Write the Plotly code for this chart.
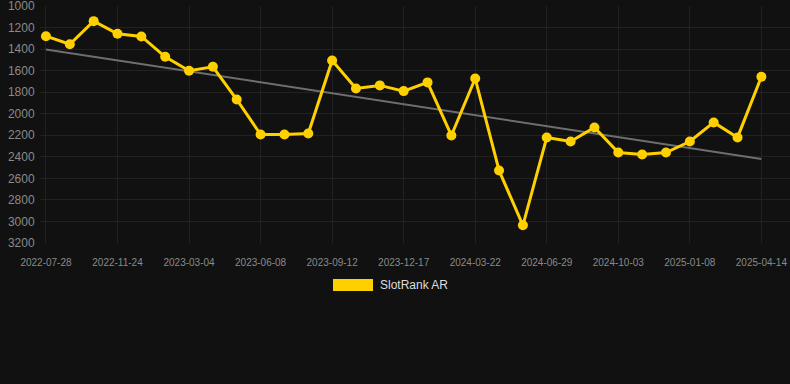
import numpy as np
import plotly.graph_objects as go

dates = [
    "2022-07-28", "2022-08-28", "2022-10-01", "2022-11-24", "2022-12-28",
    "2023-01-30", "2023-03-04", "2023-04-05", "2023-05-07", "2023-06-08",
    "2023-07-10", "2023-08-11", "2023-09-12", "2023-10-14", "2023-11-15",
    "2023-12-17", "2024-01-18", "2024-02-19", "2024-03-22", "2024-04-24",
    "2024-05-27", "2024-06-29", "2024-07-31", "2024-09-01", "2024-10-03",
    "2024-11-04", "2024-12-06", "2025-01-08", "2025-02-09", "2025-03-13",
    "2025-04-14",
]
ranks = [
    1280, 1355, 1140, 1257, 1282, 1471, 1601, 1564, 1868, 2193,
    2193, 2183, 1505, 1765, 1737, 1790, 1709, 2202, 1673, 2527,
    3036, 2220, 2258, 2128, 2360, 2379, 2360, 2258, 2081, 2220,
    1656,
]
tick_labels = ["2022-07-28", "2022-11-24", "2023-03-04", "2023-06-08", "2023-09-12",
               "2023-12-17", "2024-03-22", "2024-06-29", "2024-10-03", "2025-01-08",
               "2025-04-14"]
y_ticks = [1000, 1200, 1400, 1600, 1800, 2000, 2200, 2400, 2600, 2800, 3000, 3200]
series_name = "SlotRank AR"

idx = np.arange(len(ranks))
slope, intercept = np.polyfit(idx, ranks, 1)
trend = slope * idx + intercept

fig = go.Figure()
fig.add_trace(go.Scatter(
    x=dates, y=trend, mode="lines",
    line=dict(color="#6e6e6e", width=2), hoverinfo="skip", showlegend=False,
))
fig.add_trace(go.Scatter(
    x=dates, y=ranks, mode="lines+markers", name=series_name,
    line=dict(color="#FFD000", width=3),
    marker=dict(color="#FFD000", size=10),
    showlegend=False,
))

fig.update_layout(
    width=790, height=384,
    paper_bgcolor="#111111", plot_bgcolor="#111111",
    margin=dict(l=40, r=0, t=6, b=141),
    font=dict(family="Liberation Sans, Arial, sans-serif", color="#8a8a8a"),
    xaxis=dict(
        type="category", range=[-0.25, 31.2],
        tickmode="array", tickvals=tick_labels, ticktext=tick_labels,
        tickfont=dict(size=10, color="#8a8a8a"),
        showgrid=True, gridcolor="#212121", gridwidth=1,
        zeroline=False, showline=False,
        ticks="outside", ticklen=10, tickcolor="rgba(0,0,0,0)",
        ticklabeloverflow="allow",
    ),
    yaxis=dict(
        range=[3200.5, 999.5], tickvals=y_ticks,
        tickfont=dict(size=12, color="#8a8a8a"),
        showgrid=True, gridcolor="#212121", gridwidth=1,
        zeroline=False, showline=False,
        ticks="outside", ticklen=2, tickcolor="rgba(0,0,0,0)",
        ticklabeloverflow="allow",
    ),
    showlegend=False,
    shapes=[dict(type="rect", xref="paper", yref="paper",
                 x0=(333 - 40) / 750, x1=(373 - 40) / 750,
                 y0=(243 - 291) / 237, y1=(243 - 279) / 237,
                 fillcolor="#FFD000", line=dict(width=0))],
    annotations=[dict(text=series_name, xref="paper", yref="paper",
                      x=(378 - 40) / 750, y=(243 - 285) / 237,
                      xanchor="left", yanchor="middle", showarrow=False,
                      font=dict(size=12, color="#dddddd"))],
)

fig.write_html(
    "out.html",
    config={"displayModeBar": False},
    post_script="document.body.style.margin='0';document.body.style.background='#111111';",
)
